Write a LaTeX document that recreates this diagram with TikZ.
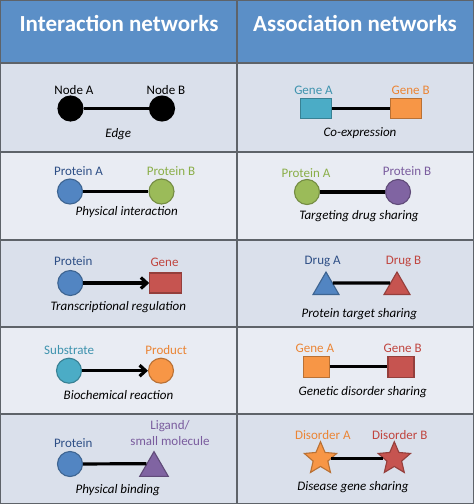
\documentclass[tikz,border=0pt]{standalone}
\usepackage{fontspec}
\setmainfont{Carlito}
\usepackage{tikz}
\usetikzlibrary{arrows.meta, positioning, shapes.geometric}
\definecolor{hBlue}{HTML}{5B8FC7}
\definecolor{rowDark}{HTML}{DAE0EB}
\definecolor{rowLight}{HTML}{E9ECF3}
\definecolor{gridGray}{HTML}{5E6369}
\definecolor{mBlue}{HTML}{5285C2}
\definecolor{mGreen}{HTML}{9BBB59}
\definecolor{mPurple}{HTML}{8064A2}
\definecolor{mCyan}{HTML}{4BACC6}
\definecolor{mOrange}{HTML}{F79646}
\definecolor{mRed}{HTML}{C65450}
\definecolor{tBlue}{HTML}{2E4F86}
\definecolor{tGreen}{HTML}{8AAE48}
\definecolor{tPurple}{HTML}{7A5C9E}
\definecolor{tCyan}{HTML}{3E93AE}
\definecolor{tOrange}{HTML}{EB8535}
\definecolor{tRed}{HTML}{C0453F}

\begin{document}
\begin{tikzpicture}[x=1pt, y=-1pt,
    hdr/.style={text=white, font=\fontsize{23}{26}\selectfont\bfseries},
    lbl/.style={font=\fontsize{13}{15.5}\selectfont, inner sep=0pt},
    captxt/.style={font=\fontsize{13}{15.5}\selectfont\itshape, inner sep=0pt},
    dot/.style={circle, draw=#1!75!black, fill=#1, line width=1.1pt, minimum size=25pt, inner sep=0pt},
    box/.style={rectangle, draw=#1!75!black, fill=#1, line width=1.1pt, minimum width=31.5pt, minimum height=20pt, inner sep=0pt},
    tri/.style={regular polygon, regular polygon sides=3, draw=#1!75!black, fill=#1, line width=1.1pt, minimum size=30pt, inner sep=0pt},
    starn/.style={star, star points=5, star point ratio=2.2, draw=#1!75!black, fill=#1, line width=1.1pt, minimum size=34pt, inner sep=0pt},
    link/.style={line width=3.2pt, black},
    arr/.style={link, -{Straight Barb[length=6pt, width=11pt]}}]
  \useasboundingbox (0,0) rectangle (474,504);
  \fill[hBlue] (0,0) rectangle (474,63);
  \foreach \ya/\yb/\c in {63/152/rowDark, 152/240/rowLight, 240/327/rowDark, 327/414/rowLight, 414/504/rowDark}
    \fill[\c] (0,\ya) rectangle (474,\yb);
  \foreach \ya in {63, 152, 240, 327, 414}
    \draw[gridGray, line width=1.5pt] (0,\ya) -- (474,\ya);
  \draw[gridGray, line width=2pt] (237,0) -- (237,504);
  \draw[gridGray, line width=2.5pt] (0,0) rectangle (474,504);

  \node[hdr] (hdrL) at (119,23) {Interaction networks};
  \node[hdr] (hdrR) at (355,23) {Association networks};

  \node[dot=black] (nodeA) at (70.5,108.5) {};
  \node[dot=black] (nodeB) at (162,108.5) {};
  \node[lbl] (labNodeA) at (74,90) {Node A};
  \node[lbl] (labNodeB) at (166,90) {Node B};
  \node[captxt] (capEdge) at (118.3,134) {Edge};
  \draw[link] (nodeA) -- (nodeB);

  \node[box=mCyan] (coGeneA) at (316,108.3) {};
  \node[box=mOrange] (coGeneB) at (406,108.3) {};
  \node[lbl, text=tCyan] (labCoGeneA) at (313.5,90) {Gene A};
  \node[lbl, text=tOrange] (labCoGeneB) at (410.7,90) {Gene B};
  \node[captxt] (capCoexp) at (360,133) {Co-expression};
  \draw[link] (coGeneA) -- (coGeneB);

  \node[dot=mBlue] (ppiA) at (70,191.5) {};
  \node[dot=mGreen] (ppiB) at (161.5,191.5) {};
  \node[lbl, text=tBlue] (labPpiA) at (78.5,171) {Protein A};
  \node[lbl, text=tGreen] (labPpiB) at (171,171) {Protein B};
  \node[captxt] (capPpi) at (126.7,212.5) {Physical interaction};
  \draw[link] (ppiA) -- (ppiB);

  \node[dot=mGreen] (drugProtA) at (307,192) {};
  \node[dot=mPurple] (drugProtB) at (398,192) {};
  \node[lbl, text=tGreen] (labDrugProtA) at (306,173) {Protein A};
  \node[lbl, text=tPurple] (labDrugProtB) at (407,171) {Protein B};
  \node[captxt] (capDrugProt) at (359,216.5) {Targeting drug sharing};
  \draw[link] (drugProtA) -- (drugProtB);

  \node[dot=mBlue] (tfProt) at (70.3,283) {};
  \node[box=mRed] (tfGene) at (165.5,283) {};
  \node[lbl, text=tBlue] (labTfProt) at (73.3,261.5) {Protein};
  \node[lbl, text=tRed] (labTfGene) at (164.5,262) {Gene};
  \node[captxt] (capTf) at (118.3,307.5) {Transcriptional regulation};
  \draw[arr] (tfProt) -- (tfGene);

  \node[tri=mBlue] (drugA) at (326,287) {};
  \node[tri=mRed] (drugB) at (397,287) {};
  \node[lbl, text=tBlue] (labDrugA) at (322.7,261.5) {Drug A};
  \node[lbl, text=tRed] (labDrugB) at (403.5,261.5) {Drug B};
  \node[captxt] (capDrug) at (359.3,314.5) {Protein target sharing};
  \draw[link] (drugA.side 3) -- (drugB.side 1);

  \node[dot=mCyan] (subs) at (69,370.7) {};
  \node[dot=mOrange] (prod) at (161,370.7) {};
  \node[lbl, text=tCyan] (labSubs) at (69.2,350) {Substrate};
  \node[lbl, text=tOrange] (labProd) at (166.2,350) {Product};
  \node[captxt] (capReact) at (118.5,395) {Biochemical reaction};
  \draw[arr] (subs) -- (prod);

  \node[box=mOrange, minimum width=26pt, minimum height=21pt] (disGeneA) at (316.2,366.7) {};
  \node[box=mRed, minimum width=26pt, minimum height=21pt] (disGeneB) at (401,366.7) {};
  \node[lbl, text=tOrange] (labDisGeneA) at (314.8,348) {Gene A};
  \node[lbl, text=tRed] (labDisGeneB) at (402.7,348) {Gene B};
  \node[captxt] (capDisGene) at (362.7,392.5) {Genetic disorder sharing};
  \draw[link] (disGeneA) -- (disGeneB);

  \node[dot=mBlue] (bindProt) at (70,464) {};
  \node[tri=mPurple, minimum size=33pt] (ligand) at (154,468.1) {};
  \node[lbl, text=tBlue] (labBindProt) at (73.2,443.3) {Protein};
  \node[lbl, text=tPurple, align=center] (labLigand) at (170,433) {Ligand/\\small molecule};
  \node[captxt] (capBind) at (117.7,490) {Physical binding};
  \draw[link] (bindProt) -- (ligand.side 1);

  \node[starn=mOrange] (disA) at (320.5,458.7) {};
  \node[starn=mRed] (disB) at (394.3,458.7) {};
  \node[lbl, text=tOrange] (labDisA) at (322.8,435) {Disorder A};
  \node[lbl, text=tRed] (labDisB) at (399.8,435) {Disorder B};
  \node[captxt] (capDis) at (353,487) {Disease gene sharing};
  \draw[link] (disA) -- (disB);
\end{tikzpicture}
\end{document}
